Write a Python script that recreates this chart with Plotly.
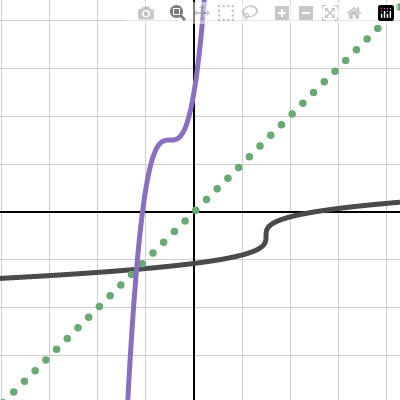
import numpy as np
import plotly.graph_objects as go

# f(x) = a*(x - h)^3 + k and its inverse
a_coef = 8.0
h_shift = -0.5
k_shift = 1.5
x_range = [-4.04, 4.29]
y_range = [-3.92, 4.42]

xs = np.linspace(x_range[0], x_range[1], 3000)
f_vals = a_coef * (xs - h_shift) ** 3 + k_shift
inv_vals = np.cbrt((xs - k_shift) / a_coef) + h_shift
dot_x = np.arange(-4.2, 4.5, 0.223)

fig = go.Figure()
fig.add_trace(go.Scatter(x=xs, y=inv_vals, mode="lines",
                         line=dict(color="#4a4a4a", width=5, simplify=False)))
fig.add_trace(go.Scatter(x=dot_x, y=dot_x, mode="markers",
                         marker=dict(color="#6aa874", size=7.5, line=dict(width=0))))
fig.add_trace(go.Scatter(x=xs, y=f_vals, mode="lines",
                         line=dict(color="#8a6fc0", width=5, simplify=False)))

axis = dict(showgrid=True, gridcolor="#cfcfcf", gridwidth=1, dtick=1,
            zeroline=True, zerolinecolor="#000000", zerolinewidth=2,
            showticklabels=False, ticks="", showline=False)
fig.update_xaxes(range=x_range, **axis)
fig.update_yaxes(range=y_range, **axis)
fig.update_layout(width=400, height=400, margin=dict(l=0, r=0, t=0, b=0),
                  plot_bgcolor="white", paper_bgcolor="white", showlegend=False)
fig.write_html("out.html", post_script="document.body.style.margin='0';")
